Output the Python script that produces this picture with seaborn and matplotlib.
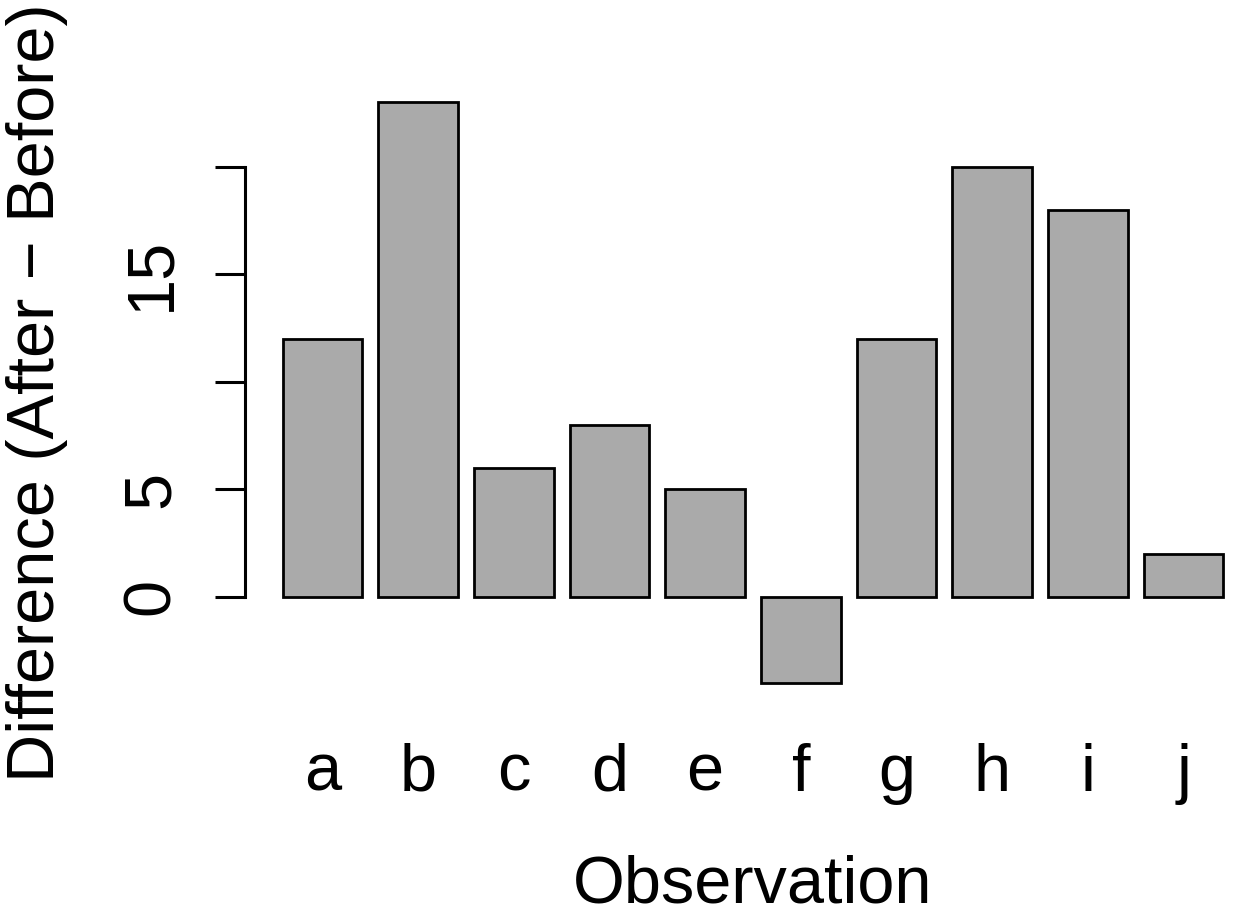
"""Bar chart of paired differences per observation, styled like an R base barplot."""

import pandas as pd
import seaborn as sns
import matplotlib
matplotlib.use("Agg")
import matplotlib.pyplot as plt

# Data
OBSERVATIONS = ["a", "b", "c", "d", "e", "f", "g", "h", "i", "j"]
DIFFERENCES = [12, 23, 6, 8, 5, -4, 12, 20, 18, 2]
Y_TICKS = [0, 5, 10, 15, 20]
Y_TICK_LABELS = ["0", "5", "", "15", ""]

BAR_COLOR = "#aaaaaa"
FONT_SIZE = 48


def plot_differences():
    df = pd.DataFrame({"Observation": OBSERVATIONS, "Difference": DIFFERENCES})

    sns.set_theme(style="white", rc={"text.color": "black",
                                     "axes.labelcolor": "black",
                                     "xtick.color": "black",
                                     "ytick.color": "black"})
    plt.rcParams["font.family"] = ["Liberation Sans", "DejaVu Sans"]

    fig = plt.figure(figsize=(12.34, 9.22), dpi=100)
    # plot region mimics R's par defaults (axis extends past right edge)
    ax = fig.add_axes([245 / 1234, (922 - 706) / 922, 1016 / 1234, 627 / 922])

    sns.barplot(
        data=df, x="Observation", y="Difference", order=OBSERVATIONS,
        color=BAR_COLOR, saturation=1, width=1 / 1.2,
        edgecolor="black", linewidth=2.0, ax=ax,
    )

    ax.set_xlim(-0.81, 9.81)
    ax.set_ylim(-5.08, 24.08)

    for side in ["top", "right", "bottom"]:
        ax.spines[side].set_visible(False)
    ax.spines["left"].set_bounds(0, 20)
    ax.spines["left"].set_linewidth(2.2)
    ax.spines["left"].set_color("black")

    ax.set_yticks(Y_TICKS)
    ax.set_yticklabels(Y_TICK_LABELS, rotation=90, va="center")
    ax.tick_params(axis="y", length=21.6, width=2.2, color="black", pad=23,
                   labelsize=FONT_SIZE, labelcolor="black", left=True)
    ax.tick_params(axis="x", length=0, pad=26.6, labelsize=FONT_SIZE,
                   labelcolor="black")

    ax.set_xlabel("Observation", fontsize=FONT_SIZE, va="center", color="black")
    ax.set_ylabel("Difference (After \u2212 Before)", fontsize=FONT_SIZE,
                  va="center", color="black")
    ax.xaxis.set_label_coords(0.5, (706 - 885) / 627)
    ax.yaxis.set_label_coords((37 - 245) / 1016, 0.5)

    fig.savefig("out.png", dpi=100)
    plt.close(fig)


if __name__ == "__main__":
    plot_differences()
